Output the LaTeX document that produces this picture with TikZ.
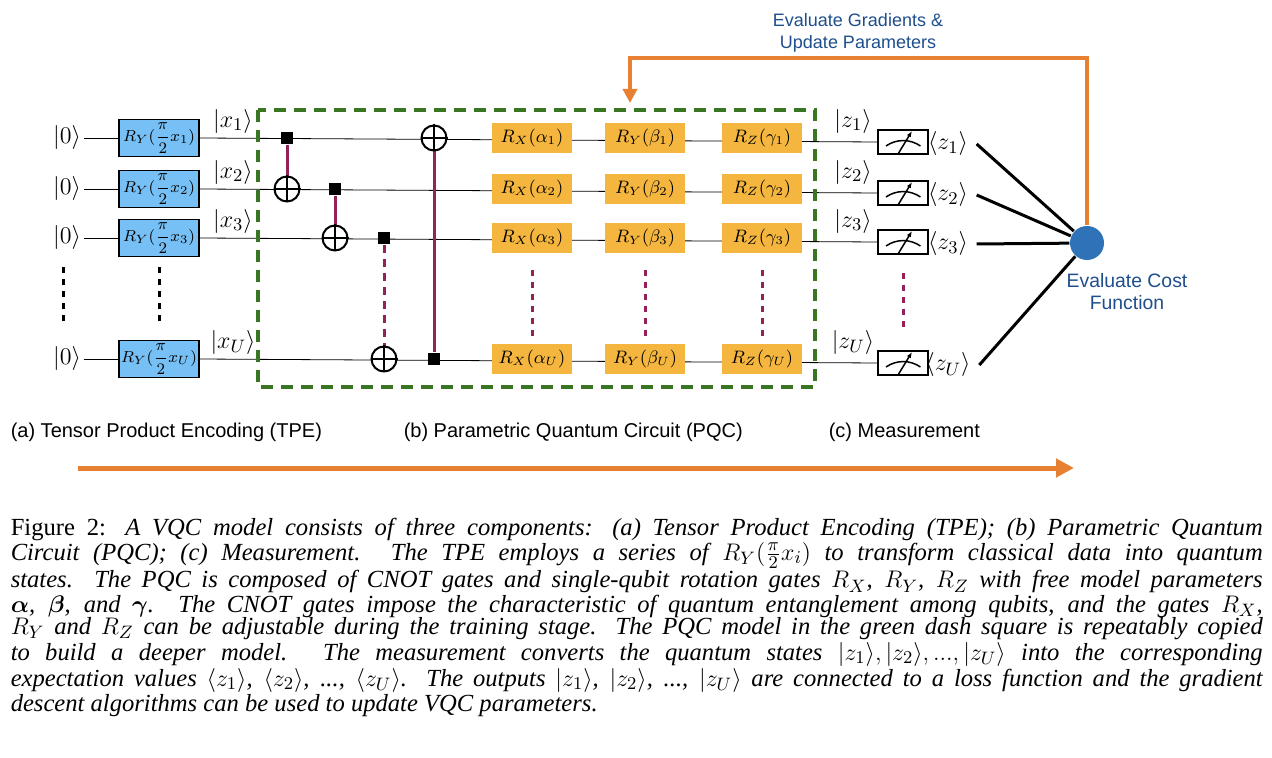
\documentclass[tikz,border=0pt]{standalone}
\usepackage{amsmath}
\usepackage{fontspec}
\setmainfont{Liberation Serif}
\newfontfamily\labelfont{Liberation Sans}
\usetikzlibrary{backgrounds,arrows.meta}
\definecolor{encblue}{RGB}{118,192,245}
\definecolor{gateorange}{RGB}{244,182,62}
\definecolor{pqcgreen}{RGB}{58,118,34}
\definecolor{cnotpurple}{RGB}{146,34,88}
\definecolor{looporange}{RGB}{231,128,50}
\definecolor{costblue}{RGB}{48,114,184}
\definecolor{textblue}{RGB}{30,78,140}
\tikzset{
  every picture/.style={line width=0.75pt},
  rygate/.style={draw, fill=encblue, minimum width=40pt, minimum height=18.5pt, inner sep=0pt, font=\fontsize{8}{8}\selectfont},
  rotgate/.style={fill=gateorange, minimum width=40pt, minimum height=15pt, inner sep=0pt, font=\fontsize{9}{10}\selectfont},
  ctrl/.style={fill=black, minimum size=6pt, inner sep=0pt},
  targ/.style={draw, circle, fill=white, minimum size=12.5pt, inner sep=0pt, line width=1pt},
  meter/.style={draw, fill=white, minimum width=25pt, minimum height=12pt, inner sep=0pt},
  ket/.style={font=\fontsize{12.5}{13}\selectfont, inner sep=1pt},
  sublabel/.style={font=\labelfont\fontsize{10}{11}\selectfont, anchor=west, inner sep=0pt},
  vdots/.style={line width=1.5pt, dash pattern=on 3pt off 3pt},
  cnotline/.style={cnotpurple, line width=1.5pt}
}

\begin{document}
\begin{tikzpicture}[x=0.5pt,y=0.5pt,yscale=-1]
\useasboundingbox (0,0) rectangle (1272,758);

% encoding
\foreach \i/\y/\s in {1/138/1,2/189/2,3/238/3,4/359/U}{
  \node[ket] (in\i) at (67,\y) {$|0\rangle$};
  \node[rygate] (ry\i) at (159,\y) {$R_Y(\genfrac{}{}{}{0}{\pi}{2}x_{\s})$};
  \node[ket, anchor=south] (x\i) at (233,\y-2) {$|x_{\s}\rangle$};
  \node[rotgate] (rx\i) at (532,\y) {$R_X(\alpha_{\s})$};
  \node[rotgate] (rb\i) at (645,\y) {$R_Y(\beta_{\s})$};
  \node[rotgate] (rz\i) at (762,\y) {$R_Z(\gamma_{\s})$};
  \node[meter] (m\i) at (903,\y+4) {};
  \node[ket, anchor=south] (z\i) at (853,\y-2) {$|z_{\s}\rangle$};
  \node[ket] (ez\i) at (948,\y+6) {$\langle z_{\s}\rangle$};
  % meter needle
  \draw (m\i.center) ++(-17,4) arc (235:305:30);
  \draw[-{Latex[length=3pt]}] (m\i.center) ++(-5,12) -- ++(14,-23);
}

% cnots
\node[ctrl] (c1) at (287,138) {};
\node[targ] (t1) at (287,189) {};
\node[ctrl] (c2) at (335,189) {};
\node[targ] (t2) at (335,238) {};
\node[ctrl] (c3) at (384,238) {};
\node[targ] (t3) at (384,359) {};
\node[ctrl] (c4) at (434,359) {};
\node[targ] (t4) at (434,138) {};
\foreach \t in {1,...,4}{
  \draw[line width=1pt] (t\t.north) -- (t\t.south) (t\t.west) -- (t\t.east);
}

% cost
\node[circle, fill=costblue, inner sep=0pt, minimum size=17pt] (cost) at (1087,243) {};
\node[font=\labelfont\fontsize{9.7}{11}\selectfont, text=textblue, align=center, anchor=north] (costlbl) at (1127,266) {Evaluate Cost\\Function};
\node[font=\labelfont\fontsize{9}{11}\selectfont, text=textblue, align=center] (gradlbl) at (858,33) {Evaluate Gradients \&\\Update Parameters};

\begin{scope}[on background layer]
  \foreach \i in {1,...,4}{
    \draw (in\i.east) -- (ry\i.west);
    \draw (ry\i.east) -- (m\i.west);
  }
  \draw[cnotline] (c1) -- (t1.center);
  \draw[cnotline] (c2) -- (t2.center);
  \draw[cnotline, dash pattern=on 4pt off 3pt] (c3) -- (t3.center);
  \draw[cnotline] (c4) -- (t4.center);
\end{scope}

\foreach \i in {1,...,4}{
  \draw[line width=1.5pt] (ez\i.east) ++(6,0) -- (cost);
}

% dots
\draw[vdots] (159,267) -- (159,322);
\draw[vdots] (63,267) -- (63,322);
\foreach \g in {rx,rb,rz}{
  \draw[vdots, cnotpurple] (\g3.south) ++(0,16) -- ++(0,66);
}
\draw[vdots, cnotpurple] (m3.south) ++(0,18) -- ++(0,60);

% pqc frame
\draw[pqcgreen, line width=2pt, dash pattern=on 6pt off 4pt] (258,110) rectangle (815,387);

% feedback loop
\coordinate (loopup) at (1087,58);
\coordinate (loopleft) at (630,58);
\draw[looporange, line width=2pt, -{Triangle[length=7pt,width=7pt]}] (cost.north) -- (loopup) -- (loopleft) -- (630,103);

% sub labels
\node[sublabel] (la) at (10,432) {(a) Tensor Product Encoding (TPE)};
\node[sublabel] (lb) at (403,432) {(b) Parametric Quantum Circuit (PQC)};
\node[sublabel] (lc) at (828,432) {(c) Measurement};
\coordinate (flowstart) at (78,468);
\coordinate (flowend) at (1074,468);
\draw[looporange, line width=2.5pt, -{Triangle[length=9pt,width=9pt]}] (flowstart) -- (flowend);

% caption
\node[anchor=north west, inner sep=0pt, text width=626pt, align=justify, font=\fontsize{12.3}{11.2}\selectfont] (caption) at (10,517)
{Figure 2: \itshape A VQC model consists of three components: (a) Tensor Product Encoding (TPE); (b) Parametric Quantum\linebreak
Circuit (PQC); (c) Measurement. The TPE employs a series of $R_Y(\frac{\pi}{2}x_i)$ to transform classical data into quantum\linebreak
states. The PQC is composed of CNOT gates and single-qubit rotation gates $R_X$, $R_Y$, $R_Z$ with free model parameters\linebreak
$\boldsymbol{\alpha}$, $\boldsymbol{\beta}$, and $\boldsymbol{\gamma}$. The CNOT gates impose the characteristic of quantum entanglement among qubits, and the gates $R_X$,\linebreak
$R_Y$ and $R_Z$ can be adjustable during the training stage. The PQC model in the green dash square is repeatably copied\linebreak
to build a deeper model. The measurement converts the quantum states $|z_1\rangle, |z_2\rangle, ..., |z_U\rangle$ into the corresponding\linebreak
expectation values $\langle z_1\rangle$, $\langle z_2\rangle$, ..., $\langle z_U\rangle$. The outputs $|z_1\rangle$, $|z_2\rangle$, ..., $|z_U\rangle$ are connected to a loss function and the gradient\linebreak
descent algorithms can be used to update VQC parameters.\par};
\end{tikzpicture}
\end{document}
